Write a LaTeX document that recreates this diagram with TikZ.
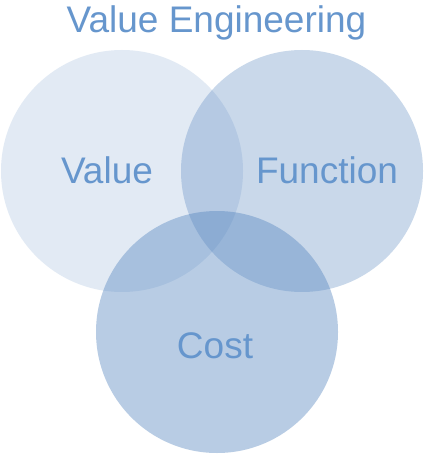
\documentclass[tikz,border=0pt]{standalone}
\usepackage{fontspec}
\setmainfont{Liberation Sans}
\definecolor{vebase}{RGB}{79,129,189}
\definecolor{vetext}{RGB}{102,150,205}
\begin{document}
\begin{tikzpicture}[x=1pt,y=-1pt,
  venn/.style={circle,minimum size=242pt,inner sep=0pt,fill=vebase},
  lbl/.style={anchor=base,text=vetext,font=\fontsize{37}{40}\selectfont,inner sep=0pt}]
\useasboundingbox (0,0) rectangle (425,454);
\fill[white] (0,0) rectangle (425,454);
\node[venn,fill opacity=0.165] (vc) at (122,171) {};
\node[venn,fill opacity=0.307] (fc) at (302,171) {};
\node[venn,fill opacity=0.40] (cc) at (217,332) {};
\node[lbl] (title) at (216.5,33) {Value Engineering};
\node[lbl] (vl) at (107,183) {Value};
\node[lbl] (fl) at (327,183) {Function};
\node[lbl] (cl) at (215,358) {Cost};
\end{tikzpicture}
\end{document}
